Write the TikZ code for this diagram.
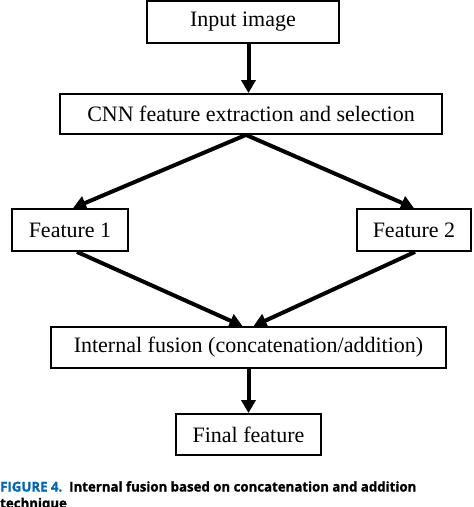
\documentclass[tikz,border=0pt]{standalone}
\usepackage{fontspec}
\setmainfont{Liberation Serif}
\newfontfamily\capfont[BoldFeatures={FakeBold=1.2}]{Open Sans}
\usetikzlibrary{arrows.meta,calc}
\definecolor{capblue}{RGB}{0,102,179}
\begin{document}
\begin{tikzpicture}[x=1pt,y=-1pt,
  box/.style={draw,line width=1.8pt,rectangle,inner sep=0pt,font=\fontsize{22}{25}\selectfont},
  conn/.style={line width=4pt,-{Triangle[length=13pt,width=14pt]}}]
\useasboundingbox (0,0) rectangle (474,507);
\node[box,minimum width=192pt,minimum height=42pt] (inp) at (243,22) {Input image};
\node[box,minimum width=382pt,minimum height=40pt] (cnn) at (251,114) {CNN feature extraction and selection};
\node[box,minimum width=116pt,minimum height=42pt] (f1) at (70,230) {Feature 1};
\node[box,minimum width=114pt,minimum height=42pt] (f2) at (414,230) {Feature 2};
\node[box,minimum width=395pt,minimum height=41pt] (fus) at (248.5,347.5) {Internal fusion (concatenation/addition)};
\node[box,minimum width=145pt,minimum height=41pt] (fin) at (248.5,434.5) {Final feature};
\draw[conn] (inp.south -| fin.north) -- (cnn.north -| fin.north);
\draw[conn] ($(cnn.south)+(-5,0)$) -- ($(f1.north)+(3,0)$);
\draw[conn] ($(cnn.south)+(-5,0)$) -- (f2.north);
\draw[conn] ($(f1.south)+(7,0)$) -- ($(fus.north)+(-6,0)$);
\draw[conn] ($(f2.south)+(1,0)$) -- ($(fus.north)+(5,0)$);
\draw[conn] (fus.south) -- (fin.north);
\node[anchor=base west,inner sep=0pt,font=\capfont\bfseries\fontsize{13.5}{17}\selectfont] (cap) at (0,491.5)
  {\scalebox{0.98}[1]{\textcolor{capblue}{FIGURE 4.}\hspace{7pt}Internal fusion based on concatenation and addition}};
\node[anchor=base west,inner sep=0pt,font=\capfont\bfseries\fontsize{13.5}{17}\selectfont] (cap2) at (0,508)
  {\scalebox{0.98}[1]{technique}};
\end{tikzpicture}
\end{document}
